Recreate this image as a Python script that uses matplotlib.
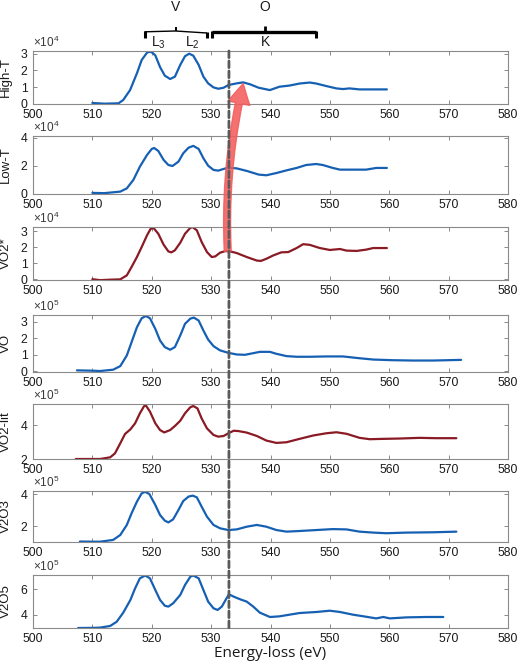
import matplotlib
matplotlib.use('Agg')
import matplotlib.pyplot as plt
from matplotlib.patches import ConnectionPatch
from matplotlib.transforms import blended_transform_factory
from matplotlib.lines import Line2D

plt.rcParams['font.family'] = ['Liberation Sans', 'DejaVu Sans']
plt.rcParams['mathtext.fontset'] = 'custom'
plt.rcParams['mathtext.rm'] = 'Liberation Sans'
plt.rcParams['mathtext.it'] = 'Liberation Sans:italic'

# ---------------- data (values in units of the panel exponent) ----------------
hight_x = [510, 512, 514.4, 515.2, 516.35, 517.5, 518.3, 519.2, 519.7, 520.1, 520.6, 521.4, 522.2, 523.1,
           523.9, 524.8, 525.6, 526.3, 527.0, 527.9, 528.7, 529.5, 530.4, 531.2, 532.1, 532.9, 534.3,
           535.4, 536.6, 538.0, 539.9, 541.5, 543.2, 544.9, 546.6, 547.7, 549.4, 551.1, 552.2, 553.3,
           555, 557.3, 559.6]
hight_y = [0.06, 0.02, 0.04, 0.24, 0.83, 1.83, 2.62, 3.06, 3.12, 3.06, 2.9, 2.2, 1.69, 1.49,
           1.63, 2.33, 2.85, 3.0, 2.88, 2.33, 1.63, 1.23, 0.99, 0.91, 0.97, 1.13, 1.23,
           1.29, 1.17, 0.97, 0.83, 1.03, 1.1, 1.22, 1.28, 1.22, 1.07, 0.93, 0.89, 0.93,
           0.87, 0.87, 0.87]

lowt_x = [510, 512, 514.7, 515.8, 516.9, 518.0, 519.2, 520.0, 520.4, 521.1, 522.0, 522.8, 523.5, 524.5,
          525.3, 526.2, 527.0, 527.9, 528.7, 529.5, 530.4, 531.2, 532.1, 532.9, 534.3, 536.0, 538.0,
          539.3, 541, 542.7, 544.4, 546, 547.7, 548.8, 550.5, 551.7, 553.9, 556.1, 557.8, 559.6]
lowt_y = [0.08, 0.06, 0.17, 0.4, 1.0, 1.94, 2.77, 3.2, 3.27, 3.06, 2.42, 2.06, 1.99, 2.3,
          2.89, 3.29, 3.42, 3.2, 2.54, 2.01, 1.71, 1.66, 1.78, 1.87, 1.82, 1.64, 1.38,
          1.33, 1.49, 1.68, 1.85, 2.06, 2.13, 2.06, 1.85, 1.73, 1.73, 1.73, 1.85, 1.85]

vo2s_x = [510, 511.3, 513, 514.7, 515.8, 516.6, 517.5, 518.3, 519.2, 519.8, 520.3, 521.1, 522.0, 522.8,
          523.3, 523.9, 524.8, 525.6, 526.5, 526.9, 527.6, 528.4, 529.3, 530.1, 530.7, 531.5, 532.4,
          533.2, 534.3, 536.0, 537.7, 538.4, 539.3, 540.4, 541.8, 543, 544.4, 545.5, 546.6, 548.3,
          550, 551.7, 552.8, 554.5, 556.1, 557.3, 559.6]
vo2s_y = [0.0, -0.06, -0.03, -0.01, 0.24, 0.76, 1.38, 2.0, 2.73, 3.13, 3.19, 2.83, 2.15, 1.73,
          1.67, 1.8, 2.27, 2.83, 3.2, 3.24, 3.04, 2.32, 1.69, 1.38, 1.42, 1.65, 1.75,
          1.73, 1.63, 1.38, 1.16, 1.14, 1.27, 1.47, 1.67, 1.69, 1.94, 2.18, 2.14, 1.94,
          1.82, 1.88, 1.78, 1.76, 1.84, 1.94, 1.94]

vo_x = [507.4, 510.0, 511.3, 513.5, 514.7, 515.8, 516.6, 517.5, 518.3, 519.0, 519.7, 520.6, 521.4, 522.2,
        523.1, 523.9, 524.8, 525.6, 526.5, 527.1, 527.9, 528.7, 529.5, 530.4, 531.5, 532.9, 534.3,
        535.7, 537.1, 538.2, 539.9, 541.0, 542.7, 544.4, 546.6, 549.4, 552.2, 555.0, 557.3, 560.6,
        564.0, 567.4, 572.1]
vo_y = [0.04, 0.02, 0.0, 0.08, 0.3, 0.95, 1.76, 2.67, 3.22, 3.36, 3.22, 2.57, 1.86, 1.46,
        1.3, 1.46, 2.17, 2.88, 3.2, 3.26, 3.08, 2.47, 1.92, 1.52, 1.26, 1.11, 1.01,
        0.99, 1.09, 1.17, 1.17, 1.05, 0.91, 0.87, 0.87, 0.89, 0.89, 0.78, 0.70, 0.66,
        0.64, 0.64, 0.68]

vo2lit_x = [507.2, 510.0, 511.3, 513.0, 513.8, 514.7, 515.5, 516.4, 517.2, 518.0, 518.7, 519.0, 519.7, 520.6,
            521.4, 522.1, 523.1, 523.9, 524.8, 525.6, 526.5, 527.0, 527.7, 528.4, 529.3, 530.4, 531.2,
            532.1, 532.9, 533.8, 534.6, 536.0, 537.7, 539.3, 541.0, 542.7, 544.9, 547.2, 549.4, 551.1,
            552.8, 555.0, 556.7, 559.0, 561.8, 565.1, 567.9, 571.3]
vo2lit_y = [2.0, 2.0, 2.0, 2.1, 2.33, 2.93, 3.48, 3.75, 4.11, 4.7, 5.12, 5.17, 4.8, 4.11,
            3.71, 3.57, 3.71, 3.95, 4.26, 4.7, 5.06, 5.13, 4.99, 4.4, 3.81, 3.42, 3.32,
            3.36, 3.52, 3.67, 3.65, 3.56, 3.36, 3.09, 2.95, 2.99, 3.19, 3.39, 3.52, 3.58,
            3.49, 3.25, 3.17, 3.19, 3.21, 3.25, 3.23, 3.23]

v2o3_x = [507.9, 510.0, 511.3, 513.5, 514.7, 515.8, 516.6, 517.5, 518.3, 518.9, 519.6, 520.6, 521.4, 522.2,
          522.8, 523.6, 524.5, 525.3, 526.2, 526.9, 527.6, 528.4, 529.3, 530.4, 531.5, 532.9, 534.3,
          536.0, 537.7, 539.3, 541.0, 542.7, 544.9, 547.7, 550.5, 552.8, 555.0, 557.3, 559.5, 562.9,
          567.4, 571.3]
v2o3_y = [1.03, 1.02, 1.02, 1.13, 1.44, 2.07, 2.8, 3.53, 4.05, 4.15, 4.01, 3.32, 2.69, 2.34,
          2.23, 2.42, 3.01, 3.57, 3.85, 3.91, 3.8, 3.22, 2.59, 2.07, 1.86, 1.75, 1.79,
          1.96, 2.07, 1.96, 1.75, 1.65, 1.69, 1.75, 1.81, 1.79, 1.65, 1.59, 1.55, 1.59,
          1.61, 1.65]

v2o5_x = [507.6, 510.0, 511.3, 513.0, 514.1, 515.2, 516.4, 517.2, 518.0, 518.9, 519.7, 520.6, 521.4, 522.2,
          522.8, 523.6, 524.8, 525.6, 526.5, 527.0, 527.9, 528.7, 529.5, 530.4, 531.1, 531.8, 532.5,
          533.0, 533.8, 534.9, 536.0, 537.1, 538.2, 539.9, 541.5, 544.9, 547.7, 550.0, 551.7, 553.9,
          556.1, 557.8, 559.0, 560.1, 562.9, 566.3, 569.1]
v2o5_y = [2.96, 2.97, 2.99, 3.12, 3.45, 4.16, 5.15, 6.06, 6.84, 7.06, 6.84, 5.93, 5.15, 4.7,
          4.63, 4.89, 5.54, 6.32, 6.97, 7.06, 6.84, 5.93, 5.02, 4.5, 4.37, 4.63, 5.2,
          5.59, 5.41, 5.2, 5.02, 4.63, 4.16, 3.82, 3.87, 4.13, 4.21, 4.31, 4.21, 4.0,
          3.84, 3.71, 3.82, 3.71, 3.79, 3.82, 3.82]

names = ['High-T', 'Low-T', 'VO2*', 'VO', 'VO2-lit', 'V2O3', 'V2O5']
exponents = [4, 4, 4, 5, 5, 5, 5]
xticks = [500, 510, 520, 530, 540, 550, 560, 570, 580]
yticks = [[0, 1, 2, 3], [0, 2, 4], [0, 1, 2, 3], [0, 1, 2, 3], [2, 4], [2, 4], [4, 6]]
ylims = [(0, 3.16), (0, 4.12), (-0.05, 3.25), (-0.06, 3.42), (2, 5.25), (1.0, 4.2), (2.96, 7.1)]
series = [(hight_x, hight_y), (lowt_x, lowt_y), (vo2s_x, vo2s_y), (vo_x, vo_y),
          (vo2lit_x, vo2lit_y), (v2o3_x, v2o3_y), (v2o5_x, v2o5_y)]
BLUE = '#1660b4'
RED = '#8a1a24'
colors = [BLUE, BLUE, RED, BLUE, RED, BLUE, BLUE]
marker_energy = 533.0

# layout in pixels (top, bottom)
W, H = 520, 669
rows = [(51, 104), (136, 194), (227, 280), (315, 372), (404, 459), (491, 542), (575, 628)]
left_px, right_px = 33, 508

fig = plt.figure(figsize=(W / 100, H / 100), dpi=100)
axes = []
for i, (top, bot) in enumerate(rows):
    ax = fig.add_axes([left_px / W, 1 - bot / H, (right_px - left_px) / W, (bot - top) / H])
    x, y = series[i]
    ax.plot(x, y, color=colors[i], lw=1.6, solid_joinstyle='round', solid_capstyle='round')
    ax.set_xlim(500, 580)
    ax.set_ylim(*ylims[i])
    ax.set_xticks(xticks)
    ax.set_yticks(yticks[i])
    ax.tick_params(direction='in', length=3, width=0.7, color='#8a8a8a',
                   top=True, right=True, labelsize=8.8, labelcolor='#1a1a1a')
    ax.tick_params(axis='x', pad=3.5)
    ax.tick_params(axis='y', pad=4)
    for s in ax.spines.values():
        s.set_color('#8a8a8a')
        s.set_linewidth(0.8)
    ax.set_ylabel(names[i], fontsize=9.5, color='#1a1a1a')
    ax.yaxis.set_label_coords(-0.044, 0.5)
    ax.text(0.0, 1.02, r'$\times10^{%d}$' % exponents[i], transform=ax.transAxes,
            ha='left', va='bottom', fontsize=8.5, color='#3a3a3a')
    axes.append(ax)

axes[-1].set_xlabel('Energy-loss (eV)', fontsize=11, family=['Open Sans', 'DejaVu Sans'],
                    labelpad=1, color='#1a1a1a')

# red arrow
arrow = ConnectionPatch(xyA=(532.8, 1.75), coordsA=axes[2].transData,
                        xyB=(535.4, 1.22), coordsB=axes[0].transData,
                        arrowstyle='simple,head_length=1.45,head_width=1.6,tail_width=0.5',
                        mutation_scale=10, connectionstyle='arc3,rad=-0.07',
                        color='#f45c5c', alpha=0.88, shrinkA=0, shrinkB=0, zorder=5)
fig.add_artist(arrow)

# dashed vertical marker across panels
dash = ConnectionPatch(xyA=(marker_energy, 1.0),
                       coordsA=blended_transform_factory(axes[0].transData, axes[0].transAxes),
                       xyB=(marker_energy, 0.0),
                       coordsB=blended_transform_factory(axes[-1].transData, axes[-1].transAxes),
                       color='#5a5a5a', lw=2.0, linestyle=(0, (2.4, 1.2)),
                       shrinkA=0, shrinkB=0, zorder=6)
fig.add_artist(dash)

# brackets above the first panel (x in data, y in figure pixels from top)
ax0 = axes[0]
def fy(px):
    return 1 - px / H
tr = blended_transform_factory(ax0.transData, fig.transFigure)
def seg(xs, ys, lw):
    fig.add_artist(Line2D(xs, [fy(v) for v in ys], transform=tr, color='black', lw=lw,
                          solid_capstyle='butt'))

seg([518.8, 524.0, 529.3], [31.8, 31.0, 33.0], 1.0)
seg([518.8, 518.8], [30.8, 37.5], 2.2)
seg([529.3, 529.3], [32.0, 37.5], 2.2)
seg([524.0, 524.0], [31.3, 26.5], 1.4)
seg([530.1, 547.7], [31.8, 31.8], 2.4)
seg([530.1, 530.1], [30.6, 37.5], 2.2)
seg([547.7, 547.7], [30.6, 37.5], 2.2)
seg([539.1, 539.1], [31.8, 26.0], 2.0)

def label(xd, ypx, s, size):
    fig.text(xd, fy(ypx), s, transform=tr, ha='center', va='center', fontsize=size, color='#1a1a1a')

label(524.0, 7, 'V', 10)
label(539.1, 7, 'O', 10)
label(521.2, 42.5, r'L$_3$', 10)
label(526.9, 42.5, r'L$_2$', 10)
label(539.1, 42, 'K', 10)

fig.savefig('out.png', dpi=100)
